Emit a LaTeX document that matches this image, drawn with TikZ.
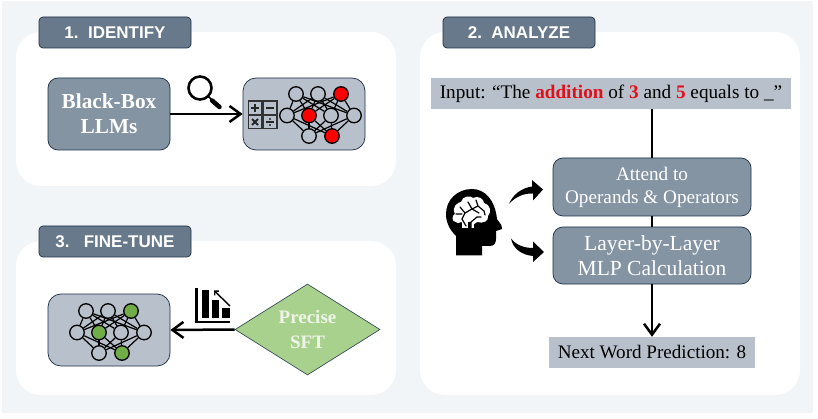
\documentclass[tikz,border=0pt]{standalone}
\usepackage{fontspec}
\setmainfont{Liberation Serif}
\newfontfamily\tabfont{Liberation Sans}
\usetikzlibrary{arrows.meta,shapes.geometric}
\definecolor{pagebg}{HTML}{F2F5F8}
\definecolor{tabfill}{HTML}{67798A}
\definecolor{boxdark}{HTML}{8494A3}
\definecolor{boxlight}{HTML}{B8C1CB}
\definecolor{edgeblue}{HTML}{1D3049}
\definecolor{dgreen}{HTML}{A9D18E}
\definecolor{dgreentext}{HTML}{EEF5E8}
\definecolor{nred}{HTML}{FF0000}
\definecolor{ngreen}{HTML}{70AD47}
\definecolor{tred}{HTML}{E00F1A}
\pgfdeclarelayer{back}
\pgfdeclarelayer{mid}
\pgfsetlayers{back,mid,main}
\tikzset{
  panel/.style={fill=white,draw=none,rounded corners=25pt},
  tabbox/.style={draw=edgeblue,fill=tabfill,line width=0.7pt,rounded corners=4pt,minimum width=152pt,minimum height=31pt,inner sep=0pt,text=white,font=\tabfont\bfseries\fontsize{17}{19}\selectfont},
  darkbox/.style={draw=edgeblue,fill=boxdark,line width=0.7pt,rounded corners=10pt,inner sep=0pt,text=white,align=center},
  lightbox/.style={draw=edgeblue,fill=boxlight,line width=0.7pt,rounded corners=13pt,minimum width=122pt,minimum height=72pt,inner sep=0pt},
  strip/.style={fill=boxlight,draw=none,inner sep=0pt,text=black},
  conn/.style={line width=2.5pt,black},
  flow/.style={conn,-{Straight Barb[length=11pt,width=16pt,line width=2.5pt]}},
  nn/.style={circle,draw=black,line width=1.3pt,minimum size=14.5pt,inner sep=0pt,fill=boxlight},
  nnedge/.style={line width=1.2pt,black},
  curvearrow/.style={fill=black,draw=none},
}
% #1 prefix, #2 x shift, #3 y shift, #4 highlight colour
\newcommand{\nnet}[4]{%
  \begin{scope}[shift={(#2,#3)},name prefix=#1-]
    \node[nn] (a1) at (296,94) {};
    \node[nn] (a2) at (318,94) {};
    \node[nn,fill=#4] (a3) at (341,94) {};
    \node[nn] (b1) at (287,115.5) {};
    \node[nn,fill=#4] (b2) at (309,115.5) {};
    \node[nn] (b3) at (331,115.5) {};
    \node[nn] (b4) at (354,115.5) {};
    \node[nn] (c1) at (309,136) {};
    \node[nn,fill=#4] (c2) at (332,136) {};
    \begin{pgfonlayer}{mid}
      \foreach \s in {a1,a2,a3}{\foreach \t in {b1,b2,b3,b4}{\draw[nnedge] (\s) -- (\t);}}
      \foreach \s in {b1,b2,b3,b4}{\foreach \t in {c1,c2}{\draw[nnedge] (\s) -- (\t);}}
    \end{pgfonlayer}
  \end{scope}}
\begin{document}
\begin{tikzpicture}[x=1pt,y=-1pt]
\useasboundingbox (0,0) rectangle (818,419);
\begin{pgfonlayer}{back}
  \fill[white] (0,0) rectangle (818,419);
  \fill[pagebg] (2,1) rectangle (813,413);
  \fill[panel] (16,32) rectangle (396,186);
  \fill[panel] (16,241) rectangle (396,395);
  \fill[panel] (420,32) rectangle (800,395);
  % boxes
  \node[darkbox,minimum width=122pt,minimum height=72pt,font=\bfseries\fontsize{21.3}{25}\selectfont] (blackbox) at (109,114) {Black-Box\\LLMs};
  \node[lightbox] (nnbox1) at (304,114) {};
  \node[lightbox] (nnbox3) at (109,330) {};
  \node[diamond,aspect=1.6,draw=edgeblue!80!dgreen,fill=dgreen,line width=0.7pt,minimum width=145pt,minimum height=91pt,inner sep=0pt,text=dgreentext,align=center,font=\bfseries\fontsize{19}{25}\selectfont] (sft) at (307.5,329.5) {Precise\\SFT};
  \node[strip,minimum width=360pt,minimum height=31pt,font=\fontsize{19.2}{21}\selectfont] (input) at (611,93.5) {Input: “The \textbf{\textcolor{tred}{addition}} of \textbf{\textcolor{tred}{3}} and \textbf{\textcolor{tred}{5}} equals to \_”};
  \node[strip,minimum width=206pt,minimum height=31pt,font=\fontsize{19.1}{21}\selectfont] (next) at (652,352.5) {Next Word Prediction: 8};
  \node[darkbox,minimum width=198pt,minimum height=58pt,font=\fontsize{19.2}{23}\selectfont] (attend) at (652,187) {Attend to\\Operands \& Operators};
  \node[darkbox,minimum width=198pt,minimum height=57pt,font=\fontsize{21.5}{25}\selectfont] (layer) at (652,255.5) {Layer-by-Layer\\MLP Calculation};
\end{pgfonlayer}
% tabs
\node[tabbox] (tab1) at (115,32.5) {1.\ \ IDENTIFY};
\node[tabbox] (tab2) at (519,32.5) {2.\ \ ANALYZE};
\node[tabbox] (tab3) at (115,241.5) {3.\ \ \ FINE-TUNE};
% networks
\nnet{n1}{0}{0}{nred}
\nnet{n3}{-210}{217}{ngreen}
% connectors
\draw[flow] (blackbox.east) -- (nnbox1.west);
\draw[flow] (sft.west) -- (nnbox3.east);
\draw[conn] (input.south -| attend.north) -- (attend.north);
\draw[conn] (attend.south) -- (layer.north);
\draw[flow] (layer.south) -- (next.north);
% magnifier
\draw[line width=2.6pt] (200,88) circle (11.5);
\draw[line width=1.6pt] (208,96) -- (212,100);
\draw[line width=4.5pt,line cap=round] (212,100.5) -- (219.5,107);
% calculator
\fill[black!80] (247.5,100.5) rectangle (277.5,129.5);
\foreach \cx/\cy in {255/108,270/108,255/122,270/122}{\fill[boxlight] (\cx-5.7,\cy-5.7) rectangle (\cx+5.7,\cy+5.7);}
\draw[line width=2.1pt,black!85] (251,108) -- (259,108) (255,104) -- (255,112);
\draw[line width=2.1pt,black!85] (266,108) -- (274,108);
\draw[line width=2.1pt,black!85] (252,119) -- (258,125) (258,119) -- (252,125);
\draw[line width=2.1pt,black!85] (266,122) -- (274,122);
\fill[black!85] (270,119) circle (1.2) (270,125) circle (1.2);
% chart
\fill[black] (195,288) rectangle (197.5,323);
\fill[black] (195,320.5) rectangle (230,323);
\fill[black] (202,290) rectangle (209,318);
\fill[black] (212,300) rectangle (219,318);
\fill[black] (222,308) rectangle (230,318);
\draw[line width=1.4pt,-{Straight Barb[length=3pt,width=6pt]}] (230,306) -- (214,290.5);
% head
\fill[black] (456,255.5) -- (482,255.5) -- (482,246) -- (490,246)
  .. controls (494,246) and (496,243) .. (496,239) -- (496,231)
  -- (502,229) .. controls (503,226) and (501,225) .. (497,219)
  .. controls (495,200) and (485,189) .. (472,189)
  .. controls (457,189) and (446,200) .. (446,214)
  .. controls (446,224) and (451,231) .. (456,236) -- cycle;
% brain
\fill[white] (456,222)
  .. controls (451,222) and (452,215) .. (455,214)
  .. controls (451,207) and (458,202) .. (461,202)
  .. controls (462,196) and (471,195) .. (473,198)
  .. controls (478,195) and (484,199) .. (484,203)
  .. controls (490,204) and (492,212) .. (488,216)
  .. controls (489,221) and (483,224) .. (477,222)
  -- (473,225) -- (473,228) -- (464,228) -- (464,224) -- (461,222)
  .. controls (459,224) and (457,223) .. (456,222) -- cycle;
\fill[white] (462,222) rectangle (474,228);
\draw[black,line width=1.2pt,line cap=round,line join=round]
  (460,207) -- (465,213) -- (462,219) -- (466,226)
  (465,213) -- (472,209) -- (468,202)
  (472,209) -- (478,206) -- (484,211) -- (485,215)
  (478,206) -- (476,200)
  (472,209) -- (479,213)
  (456,214) -- (462,214)
  (471,228) -- (471,222) -- (477,217) -- (481,217);
\fill[black] (468,222) rectangle (470.5,229);
% curved arrows
\fill[curvearrow] (509,204) .. controls (513,194) and (522,188) .. (532,186.5)
  -- (532,180) -- (543,189.5) -- (533,200.5) -- (533,193.5)
  .. controls (524,193) and (515,197) .. (509,204) -- cycle;
\fill[curvearrow] (511,238.5) .. controls (516,245) and (524,248) .. (533,248)
  -- (533,241.5) -- (544,252) -- (533,262) -- (533,256)
  .. controls (522,255) and (513,249) .. (511,238.5) -- cycle;
\end{tikzpicture}
\end{document}
